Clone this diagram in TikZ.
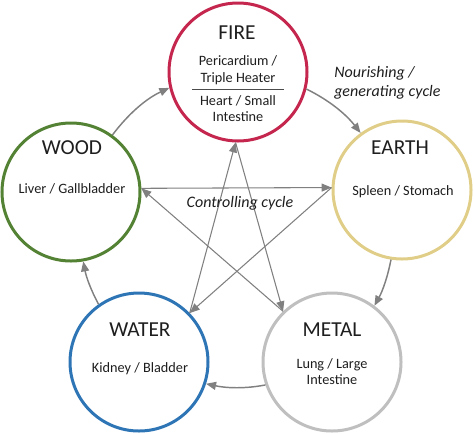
\documentclass[tikz,border=0pt]{standalone}
\usepackage{fontspec}
\setmainfont{Carlito}
\usetikzlibrary{arrows.meta}
\definecolor{firec}{RGB}{196,38,78}
\definecolor{woodc}{RGB}{84,130,53}
\definecolor{earthc}{RGB}{224,206,136}
\definecolor{waterc}{RGB}{46,117,182}
\definecolor{metalc}{RGB}{191,191,191}
\definecolor{arrc}{RGB}{128,128,128}
\definecolor{txtc}{RGB}{30,30,30}
\begin{document}
\begin{tikzpicture}[x=0.75pt,y=0.75pt,
  element/.style={circle, draw=#1, line width=2.25pt, minimum size=103.5pt, inner sep=0pt, outer sep=1.1pt},
  title/.style={font=\fontsize{16}{19}\selectfont, text=txtc, inner sep=0pt},
  organ/.style={font=\fontsize{10.7}{12.5}\selectfont, text=txtc, align=center, inner sep=0pt},
  cyc/.style={font=\itshape\fontsize{12}{14.25}\selectfont, text=txtc, align=left, inner sep=0pt},
  nourish/.style={draw=arrc, line width=1.1pt, -{Triangle[length=7.5pt,width=6pt]}, looseness=0.9},
  control/.style={draw=arrc, line width=0.8pt, -{Triangle[length=7.5pt,width=6pt]}},
  divider/.style={draw=txtc!80, line width=0.7pt},
]
\useasboundingbox (0,0) rectangle (474,-433);

% elements
\node[element=firec]  (fire)  at (238,-72)  {};
\node[element=woodc]  (wood)  at (71,-192)  {};
\node[element=earthc] (earth) at (402,-190) {};
\node[element=waterc] (water) at (139,-362) {};
\node[element=metalc] (metal) at (332,-362) {};

% nourishing / generating cycle
\draw[nourish] (wood.54)   to[out=53,  in=205] (fire.193);
\draw[nourish] (fire.346)  to[out=-26, in=128] (earth.126);
\draw[nourish] (earth.261) to[out=-101,in=61]  (metal.53);
\draw[nourish] (metal.199) to[out=191, in=-12] (water.342);
\draw[nourish] (water.125) to[out=118.5,in=281] (wood.280);

% controlling cycle
\draw[control] (wood.3)    -- (earth.178);
\draw[control] (earth.178) -- (water.44);
\draw[control] (water.44)  -- (fire.268);
\draw[control] (fire.268)  -- (metal.134);
\draw[control] (metal.134) -- (wood.3);

% texts
\node[title] (fireT) at (237,-33) {FIRE};
\node[organ] (fireA) at (238,-70) {Pericardium /\\Triple Heater};
\coordinate (divL) at (192,-89);
\coordinate (divR) at (284,-89);
\draw[divider] (divL) -- (divR);
\node[organ] (fireB) at (238,-108.5) {Heart / Small\\Intestine};

\node[title] (woodT) at (72,-148) {WOOD};
\node[organ] (woodA) at (72,-189) {Liver / Gallbladder};

\node[title] (earthT) at (400,-148) {EARTH};
\node[organ] (earthA) at (403,-192) {Spleen / Stomach};

\node[title] (waterT) at (140,-330) {WATER};
\node[organ] (waterA) at (140,-369) {Kidney / Bladder};

\node[title] (metalT) at (332,-330) {METAL};
\node[organ] (metalA) at (332,-371.5) {Lung / Large\\Intestine};

\node[cyc] (ctrl) at (240,-203) {Controlling cycle};
\node[cyc, anchor=west] (nour) at (334,-82.5) {Nourishing /\\generating cycle};
\end{tikzpicture}
\end{document}
